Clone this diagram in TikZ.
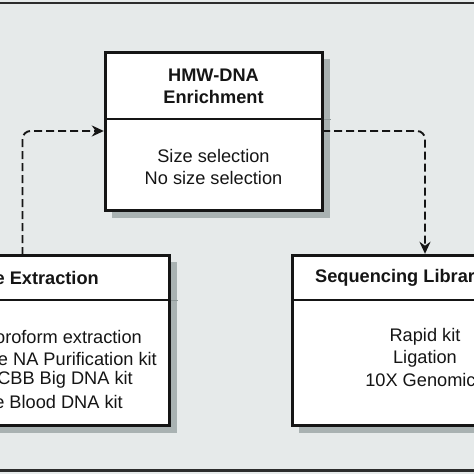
\documentclass[tikz,border=0pt]{standalone}
\usepackage{fontspec}
\setmainfont{Liberation Sans}
\usetikzlibrary{arrows.meta}
\definecolor{bgc}{HTML}{E6EAEA}
\definecolor{shc}{HTML}{A9B2B2}
\definecolor{shd}{HTML}{8E9898}
\definecolor{ink}{HTML}{151515}
\tikzset{
  x=1pt, y=-1pt,
  boxnode/.style={draw=ink, line width=3pt, fill=white, inner sep=0pt, outer sep=0pt, rectangle},
  shadow/.style={fill=shc},
  shadowline/.style={draw=shd, line width=1.5pt},
  divider/.style={draw=ink, line width=2.6pt},
  title/.style={font=\fontsize{18.2}{21.5}\selectfont\bfseries, text=ink, inner sep=0pt, align=center},
  body/.style={font=\fontsize{18.2}{21.5}\selectfont, text=ink, inner sep=0pt},
  conn/.style={draw=ink, line width=1.9pt, dash pattern=on 8pt off 4pt, rounded corners=8pt, -{Stealth[length=12pt,width=11pt]}, shorten >=1.2pt},
  frameline/.style={draw=ink!90, line width=2.6pt}
}
\begin{document}
\begin{tikzpicture}
\useasboundingbox (0,0) rectangle (474,474);
\begin{scope}
\clip (0,0) rectangle (474,474);
\fill[bgc] (0,0) rectangle (474,474);
\draw[frameline] (-5,3) -- (479,3);
\draw[frameline] (-5,470.5) -- (479,470.5);
% shadows
\fill[shadow] (112,59) rectangle (330,218);
\fill[shadow] (-90,262) rectangle (177,433);
\fill[shadow] (299,262) rectangle (566,433);
% boxes
\node[boxnode, minimum width=217pt, minimum height=158pt] (top) at (213.5,131) {};
\node[boxnode, minimum width=266pt, minimum height=170pt] (lb) at (36,340) {};
\node[boxnode, minimum width=266pt, minimum height=170pt] (rb) at (425,340) {};
\draw[divider] (top.west |- 0,119) -- (top.east |- 0,119);
\draw[divider] (lb.west |- 0,300) -- (lb.east |- 0,300);
\draw[divider] (rb.west |- 0,300) -- (rb.east |- 0,300);
\draw[shadowline] (top.east |- 0,119.5) ++(1.5,0) -- ++(7,0);
\draw[shadowline] (lb.east |- 0,300.5) ++(1.5,0) -- ++(7,0);
% texts
\node[title] (tt) at (213.5,86.5) {HMW-DNA\\Enrichment};
\node[body] (t1) at (213.5,156) {Size selection};
\node[body] (t2) at (213.5,177.5) {No size selection};
\node[title, anchor=east] (lt) at (99,278) {e Extraction};
\node[body, anchor=east] (l1) at (142,337) {oroform extraction};
\node[body, anchor=east] (l2) at (157,358.5) {e NA Purification kit};
\node[body, anchor=east] (l3) at (133,380) {CBB Big DNA kit};
\node[body, anchor=east] (l4) at (123,401.5) {e Blood DNA kit};
\node[title, anchor=west] (rt) at (315,278) {Sequencing Library};
\node[body] (r1) at (425,337) {Rapid kit};
\node[body] (r2) at (425,358.5) {Ligation};
\node[body] (r3) at (425,380) {10X Genomics};
% connectors
\coordinate (c1) at (22.5,131);
\draw[conn] (lb.north -| c1) |- (top.west);
\draw[conn] (top.east) -| (rb.north);
\end{scope}
\end{tikzpicture}
\end{document}
